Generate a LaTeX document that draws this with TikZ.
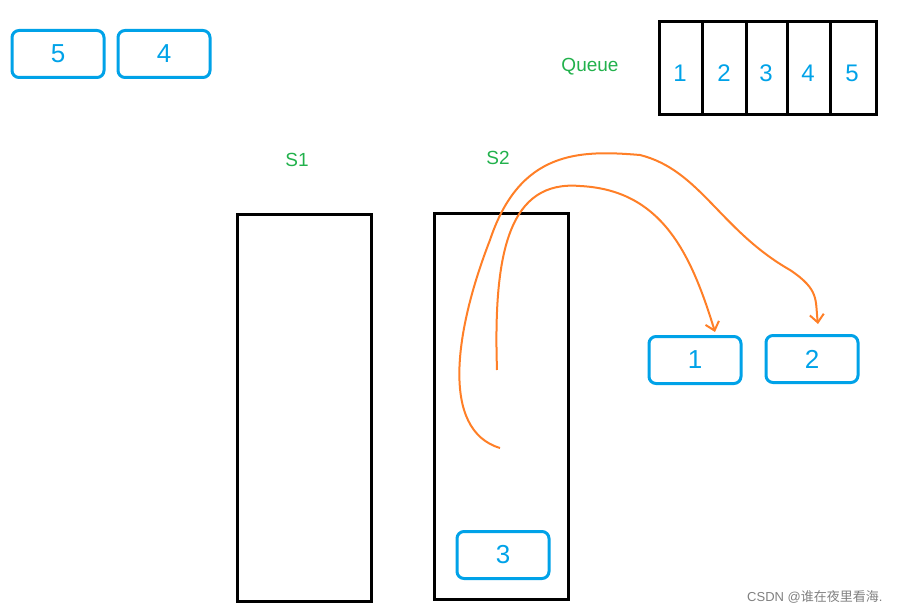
\documentclass[tikz,border=0pt]{standalone}
\usepackage{fontspec}
\setmainfont{Liberation Sans}
\newfontfamily\cjk{Noto Sans CJK SC}
\usetikzlibrary{arrows.meta}
\definecolor{cblue}{RGB}{0,162,232}
\definecolor{cgreen}{RGB}{34,177,76}
\definecolor{corange}{RGB}{255,127,39}
\begin{document}
\begin{tikzpicture}[x=1pt,y=-1pt,
  bbox/.style={draw=cblue,line width=3pt,rounded corners=7pt,minimum width=92pt,minimum height=47pt,text=cblue,font=\fontsize{26}{26}\selectfont,inner sep=0pt},
  stackbox/.style={draw=black,line width=3pt},
  lbl/.style={text=cgreen,font=\fontsize{19}{19}\selectfont},
  qd/.style={text=cblue,font=\fontsize{24}{24}\selectfont},
  arr/.style={draw=corange,line width=2pt,-{Straight Barb[length=8pt,width=14pt]}}]
\useasboundingbox (0,0) rectangle (898,615);
\node[bbox] (b5) at (58,54) {5};
\node[bbox] (b4) at (164,54) {4};
\node[bbox] (b1) at (695,360) {1};
\node[bbox] (b2) at (812,359) {2};
\node[bbox] (b3) at (503,555) {3};
\draw[stackbox] (659,22) rectangle (876,115);
\foreach \x in {702,746,787,830} \draw[line width=3pt] (\x,22) -- (\x,115);
\node[qd] (q1) at (680,73) {1};
\node[qd] (q2) at (724,73) {2};
\node[qd] (q3) at (766,73) {3};
\node[qd] (q4) at (808,73) {4};
\node[qd] (q5) at (852,73) {5};
\node[lbl] (qu) at (590,67) {Queue};
\node[lbl] (s1) at (297,160) {S1};
\node[lbl] (s2) at (498,158) {S2};
\draw[stackbox] (237,215) rectangle (371,601);
\draw[stackbox] (434,214) rectangle (568,599);
\coordinate (c1s) at (497,370);
\coordinate (c2s) at (500,448);
\draw[arr] (c1s) .. controls (493,250) and (510,180) .. (580,186) .. controls (660,190) and (690,250) .. (715,332);
\draw[arr] (c2s) .. controls (440,430) and (455,330) .. (490,240) .. controls (520,150) and (580,150) .. (640,155) .. controls (700,170) and (720,230) .. (790,270) .. controls (820,290) and (815,300) .. (818,324);
\node[text=gray,font=\fontsize{13}{13}\selectfont,anchor=east] (wm) at (886,597) {CSDN @{\cjk 谁在夜里看海}.};
\end{tikzpicture}
\end{document}
